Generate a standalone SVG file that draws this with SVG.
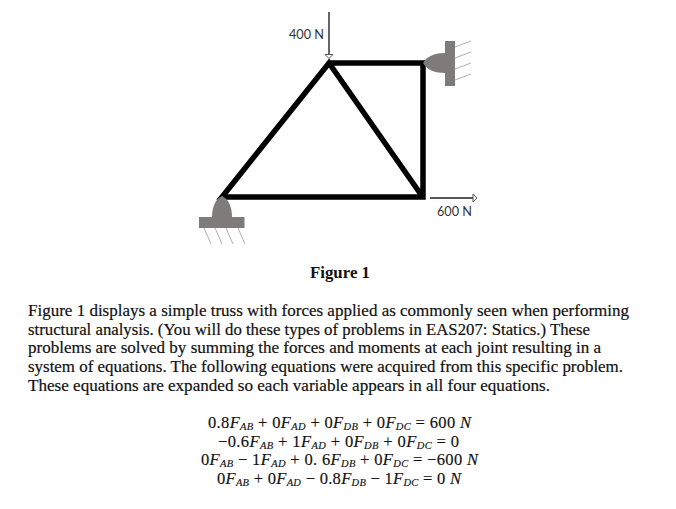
<svg xmlns="http://www.w3.org/2000/svg" width="676" height="509" viewBox="0 0 676 509">
<style>
.b{font-family:"Liberation Serif",serif;font-size:16.5px;fill:#111;stroke:#111;stroke-width:0.2}
.fig{font-family:"Liberation Serif",serif;font-size:16.5px;font-weight:bold;fill:#111}
.eq{font-family:"Liberation Serif",serif;font-size:16.5px;fill:#111;stroke:#111;stroke-width:0.15}
.i{font-style:italic}
.s{font-style:italic;font-size:10.5px}
.lab{font-family:Lato,"Liberation Sans",sans-serif;font-size:12.5px;fill:#333}
.m{fill:none;stroke:#000;stroke-width:5.5;stroke-linecap:round;stroke-linejoin:miter}
.h{fill:none;stroke:#999;stroke-width:0.8}
.g{fill:#7f7b7b}
.ar{fill:none;stroke:#555;stroke-width:1.8}
.hd{fill:#fff;stroke:#555;stroke-width:1}
</style>
<g id="connectors">
<path class="m" d="M329 63H423V197H222L329 63L422 196"/>
<path class="ar" d="M329 12V54"/><path class="hd" d="M325 54.500L333 54.500L329 58.500Z"/>
<path class="ar" d="M430 198H473"/><path class="hd" d="M473 194L477 198L473 202Z"/>
</g>
<g id="support-top">
<path class="g" d="M423 63C427 56 435 53 445 53V73C435 73 427 70 423 63Z"/>
<rect class="g" x="445" y="41" width="10" height="45"/>
<path class="h" d="M455 47L471 41M455 58L471 52M455 69L471 63M455 80L471 74"/>
</g>
<g id="support-bottom">
<path class="g" d="M222 196C215 199 212 208 212 217H232C232 208 229 199 222 196Z"/>
<rect class="g" x="199" y="217" width="45.500" height="11"/>
<path class="h" d="M204 228L211 244M215 228L222 244M226 228L233 244M238 228L245 244"/>
</g>
<g id="labels">
<text class="lab" x="289" y="39" textLength="35" lengthAdjust="spacingAndGlyphs">400 N</text>
<text class="lab" x="437" y="216" textLength="35" lengthAdjust="spacingAndGlyphs">600 N</text>
<text class="fig" x="310" y="278" textLength="60" lengthAdjust="spacingAndGlyphs">Figure 1</text>
</g>
<g id="paragraph">
<text class="b" x="28" y="316" textLength="601" lengthAdjust="spacingAndGlyphs">Figure 1 displays a simple truss with forces applied as commonly seen when performing</text>
<text class="b" x="28" y="335" textLength="562" lengthAdjust="spacingAndGlyphs">structural analysis. (You will do these types of problems in EAS207: Statics.) These</text>
<text class="b" x="28" y="353" textLength="573" lengthAdjust="spacingAndGlyphs">problems are solved by summing the forces and moments at each joint resulting in a</text>
<text class="b" x="28" y="372" textLength="595" lengthAdjust="spacingAndGlyphs">system of equations. The following equations were acquired from this specific problem.</text>
<text class="b" x="28" y="391" textLength="522" lengthAdjust="spacingAndGlyphs">These equations are expanded so each variable appears in all four equations.</text>
</g>
<g id="equations">
<text class="eq" x="208" y="428" textLength="263" lengthAdjust="spacing">0.8<tspan class="i">F</tspan><tspan class="s" dy="2">AB</tspan><tspan dy="-2"> + 0</tspan><tspan class="i">F</tspan><tspan class="s" dy="2">AD</tspan><tspan dy="-2"> + 0</tspan><tspan class="i">F</tspan><tspan class="s" dy="2">DB</tspan><tspan dy="-2"> + 0</tspan><tspan class="i">F</tspan><tspan class="s" dy="2">DC</tspan><tspan dy="-2"> = 600 </tspan><tspan class="i">N</tspan></text>
<text class="eq" x="218" y="447" textLength="241" lengthAdjust="spacing">−0.6<tspan class="i">F</tspan><tspan class="s" dy="2">AB</tspan><tspan dy="-2"> + 1</tspan><tspan class="i">F</tspan><tspan class="s" dy="2">AD</tspan><tspan dy="-2"> + 0</tspan><tspan class="i">F</tspan><tspan class="s" dy="2">DB</tspan><tspan dy="-2"> + 0</tspan><tspan class="i">F</tspan><tspan class="s" dy="2">DC</tspan><tspan dy="-2"> = 0</tspan></text>
<text class="eq" x="201" y="465" textLength="277" lengthAdjust="spacing">0<tspan class="i">F</tspan><tspan class="s" dy="2">AB</tspan><tspan dy="-2"> − 1</tspan><tspan class="i">F</tspan><tspan class="s" dy="2">AD</tspan><tspan dy="-2"> + 0. 6</tspan><tspan class="i">F</tspan><tspan class="s" dy="2">DB</tspan><tspan dy="-2"> + 0</tspan><tspan class="i">F</tspan><tspan class="s" dy="2">DC</tspan><tspan dy="-2"> = −600 </tspan><tspan class="i">N</tspan></text>
<text class="eq" x="217" y="484" textLength="244" lengthAdjust="spacing">0<tspan class="i">F</tspan><tspan class="s" dy="2">AB</tspan><tspan dy="-2"> + 0</tspan><tspan class="i">F</tspan><tspan class="s" dy="2">AD</tspan><tspan dy="-2"> − 0.8</tspan><tspan class="i">F</tspan><tspan class="s" dy="2">DB</tspan><tspan dy="-2"> − 1</tspan><tspan class="i">F</tspan><tspan class="s" dy="2">DC</tspan><tspan dy="-2"> = 0 </tspan><tspan class="i">N</tspan></text>
</g>
</svg>
